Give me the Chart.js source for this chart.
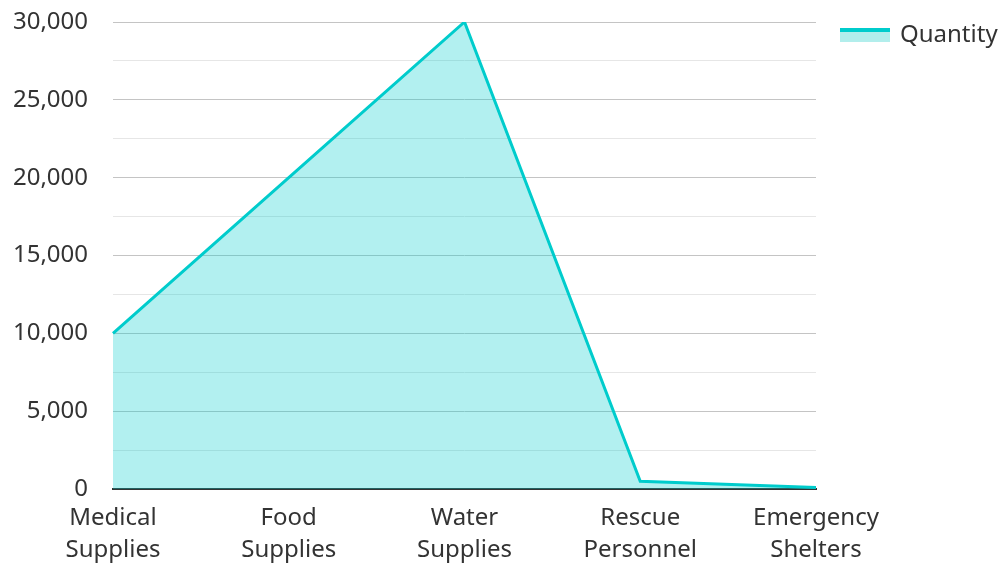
<!DOCTYPE html>
<html>
<head>
<meta charset="utf-8">
<script src="https://cdn.jsdelivr.net/npm/chart.js@4.4.1/dist/chart.umd.min.js"></script>
<style>
  html, body { margin: 0; padding: 0; background: #fff; }
  #wrap { position: relative; width: 1002px; height: 563px; }
  #legend { position: absolute; left: 840px; top: 16px; display: flex; align-items: center;
    font-family: "Noto Sans", sans-serif; font-size: 24px; color: #333; }
  #legend .box { width: 50px; height: 10px; border-top: 4px solid #00cccc; background: #b2eeec; margin-right: 10px; margin-top: 4px; }
</style>
</head>
<body>
<div id="wrap">
  <canvas id="grafico" width="1002" height="563"></canvas>
  <div id="legend"><span class="box"></span><span>Quantity</span></div>
</div>
<script>
const categorias = [['Medical', 'Supplies'], ['Food', 'Supplies'], ['Water', 'Supplies'], ['Rescue', 'Personnel'], ['Emergency', 'Shelters']];
const quantidades = [10000, 20000, 30000, 500, 100];
const ticksY = [0, 5000, 10000, 15000, 20000, 25000, 30000];

const ctx = document.getElementById('grafico').getContext('2d');

new Chart(ctx, {
  type: 'line',
  data: {
    labels: categorias,
    datasets: [{
      label: 'Quantity',
      data: quantidades,
      borderColor: '#00cccc',
      backgroundColor: 'rgba(0, 204, 204, 0.3)',
      borderWidth: 3,
      fill: 'origin',
      pointRadius: 0,
      tension: 0
    }]
  },
  options: {
    responsive: false,
    animation: false,
    layout: { padding: { left: 0, right: 186, top: 22, bottom: 0 } },
    plugins: { legend: { display: false }, tooltip: { enabled: false } },
    scales: {
      x: {
        offset: false,
        // altura fixa pro eixo x (labels em duas linhas)
        afterFit: s => { s.height = 74; s.paddingLeft = 0; s.paddingRight = 0; },
        grid: { display: false, drawTicks: false },
        border: { display: true, color: '#333', width: 2 },
        ticks: {
          color: '#333',
          font: { family: 'Noto Sans', size: 24, lineHeight: 1.35 },
          maxRotation: 0,
          autoSkip: false,
          padding: 13
        }
      },
      y: {
        min: 0,
        max: 30000,
        afterFit: s => { s.width = 113; s.paddingTop = 0; s.paddingBottom = 0; },
        grid: {
          drawTicks: false,
          color: c => (c.tick.value % 5000 === 0 ? '#c4c4c4' : '#e6e6e6'),
          lineWidth: 1
        },
        border: { display: false },
        ticks: {
          stepSize: 2500,
          color: '#333',
          padding: 25,
          font: { family: 'Noto Sans', size: 24 },
          callback: v => (ticksY.includes(v) ? v.toLocaleString('en-US') : '')
        }
      }
    }
  }
});
</script>
</body>
</html>
